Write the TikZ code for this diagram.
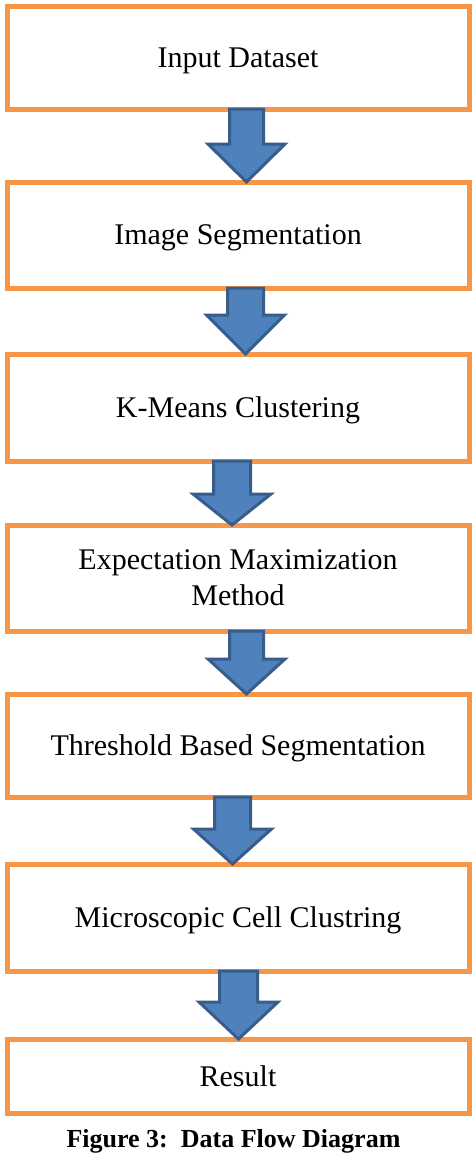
\documentclass[tikz,border=0pt]{standalone}
\usepackage{fontspec}
\setmainfont{Liberation Serif}
\definecolor{boxorange}{HTML}{F79646}
\definecolor{arrowfill}{HTML}{4F81BD}
\definecolor{arrowline}{HTML}{385D8A}
\tikzset{
  flowbox/.style={draw=boxorange, line width=5pt, fill=white, rectangle,
    minimum width=462pt, inner sep=0pt, outer sep=0pt, align=center,
    text depth=0pt,
    font=\fontsize{30}{36}\selectfont},
  blockarr/.style={draw=arrowline, fill=arrowfill, line width=3pt, line join=miter},
  captiontext/.style={font=\fontsize{26}{30}\selectfont\bfseries, inner sep=0pt}
}
% #1 from node, #2 to node, #3 centre x, #4 shaft half width, #5 head half width, #6 head height
\newcommand\flowarrow[6]{%
  \path[blockarr] let \p1=(#1.south), \p2=(#2.north) in
    ({(#3-#4)*1pt},{\y1}) -- ({(#3+#4)*1pt},{\y1}) --
    ({(#3+#4)*1pt},{\y2+(#6)*1pt}) -- ({(#3+#5)*1pt},{\y2+(#6)*1pt}) --
    ({#3*1pt},{\y2}) --
    ({(#3-#5)*1pt},{\y2+(#6)*1pt}) -- ({(#3-#4)*1pt},{\y2+(#6)*1pt}) -- cycle;}
\usetikzlibrary{calc}
\begin{document}
\begin{tikzpicture}[x=1pt,y=-1pt]
\useasboundingbox (0,0) rectangle (474,1157);
\node[flowbox, minimum height=103pt] (b1) at (238,57.5) {Input Dataset};
\node[flowbox, minimum height=106pt] (b2) at (238,235) {Image Segmentation};
\node[flowbox, minimum height=107pt] (b3) at (238,407.5) {K-Means Clustering};
\node[flowbox, minimum height=106pt] (b4) at (238,578) {Expectation Maximization\\Method};
\node[flowbox, minimum height=103pt] (b5) at (238,745.5) {Threshold Based Segmentation};
\node[flowbox, minimum height=107pt] (b6) at (238,917.5) {Microscopic Cell Clustring};
\node[flowbox, minimum height=74pt] (b7) at (238,1076) {Result};
\flowarrow{b1}{b2}{246.5}{17}{38.5}{38}
\flowarrow{b2}{b3}{245.5}{18}{39}{39}
\flowarrow{b3}{b4}{232}{18.5}{39}{31}
\flowarrow{b4}{b5}{246.5}{17}{38.5}{35}
\flowarrow{b5}{b6}{232.5}{18}{39}{35}
\flowarrow{b6}{b7}{238.5}{19}{39.5}{37}
\node[captiontext] (cap) at (233.5,1141) {Figure 3:\ \ Data Flow Diagram};
\end{tikzpicture}
\end{document}
